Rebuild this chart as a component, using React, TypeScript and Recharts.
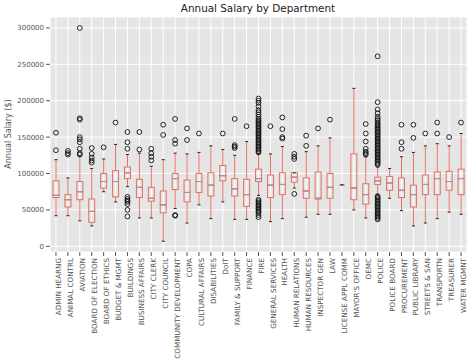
import { ComposedChart, Bar, Scatter, XAxis, YAxis, CartesianGrid } from "recharts";

const departments = [
  "ADMIN HEARNG", "ANIMAL CONTRL", "AVIATION", "BOARD OF ELECTION", "BOARD OF ETHICS",
  "BUDGET & MGMT", "BUILDINGS", "BUSINESS AFFAIRS", "CITY CLERK", "CITY COUNCIL",
  "COMMUNITY DEVELOPMENT", "COPA", "CULTURAL AFFAIRS", "DISABILITIES", "DoIT",
  "FAMILY & SUPPORT", "FINANCE", "FIRE", "GENERAL SERVICES", "HEALTH",
  "HUMAN RELATIONS", "HUMAN RESOURCES", "INSPECTOR GEN", "LAW", "LICENSE APPL COMM",
  "MAYOR'S OFFICE", "OEMC", "POLICE", "POLICE BOARD", "PROCUREMENT",
  "PUBLIC LIBRARY", "STREETS & SAN", "TRANSPORTN", "TREASURER", "WATER MGMNT",
];

const whiskerLow = [
  42000, 42000, 35000, 28000, 75000, 61000, 82000, 39000, 39000, 7000,
  52000, 32000, 57000, 38000, 61000, 37000, 37000, 70000, 34000, 38000,
  80000, 40000, 44000, 44000, 84400, 50000, 39000, 71000, 66000, 49000,
  28000, 32000, 38000, 47000, 44000,
];
const q1 = [
  67000, 54000, 64000, 33000, 80000, 68000, 93000, 67000, 62000, 46000,
  78000, 61000, 74000, 69000, 90000, 69000, 55000, 89000, 67000, 71000,
  88000, 66000, 65000, 66000, 84400, 64000, 58000, 85000, 77000, 67000,
  54000, 71000, 71000, 77000, 71000,
];
const medians = [
  70000, 64000, 75000, 48000, 89000, 89000, 101000, 81000, 66000, 57000,
  93000, 74000, 89000, 84000, 97000, 79000, 71000, 93000, 84000, 85000,
  95000, 76000, 66000, 81000, 84400, 80000, 71000, 90000, 87000, 77000,
  71000, 85000, 93000, 89000, 93000,
];
const q3 = [
  90000, 71000, 89000, 65000, 100000, 104000, 109000, 92000, 81000, 76000,
  100000, 91000, 100000, 101000, 111000, 93000, 92000, 106000, 98000, 101000,
  101000, 94000, 102000, 100000, 84400, 127000, 86000, 95000, 96000, 94000,
  84000, 98000, 102000, 103000, 106000,
];
const whiskerHigh = [
  119000, 94000, 124000, 107000, 120000, 140000, 126000, 128000, 110000, 119000,
  128000, 127000, 129000, 138000, 133000, 125000, 144000, 127000, 127000, 137000,
  101000, 130000, 138000, 149000, 84400, 217000, 123000, 109000, 107000, 123000,
  129000, 138000, 141000, 138000, 155000,
];

const fliers: number[][] = [
  [156000, 132000],
  [131000, 128000, 126000],
  [300000, 176000, 174000, 150000, 147000, 143000, 134000, 128000, 126000],
  [135000, 127000, 122000, 118000, 115000],
  [136000],
  [170000],
  [157000, 143000, 134000, 68000, 65000, 63000, 61000, 58000, 50000, 41000],
  [157000, 133000],
  [134000, 128000, 123000, 118000],
  [167000, 153000],
  [175000, 146000, 141000, 43000, 42000],
  [162000, 146000],
  [155000],
  [],
  [155000],
  [175000, 139000, 137000, 135000],
  [165000],
  [
    203000, 200000, 197000, 192000, 187000, 184000, 181000, 178000, 175000, 173000,
    171000, 169000, 167000, 165000, 163000, 161000, 159000, 157000, 155000, 153000,
    151000, 149000, 147000, 145000, 143000, 141000, 139000, 137000, 135000, 133000,
    131000, 129000, 64000, 62000, 60000, 58000, 56000, 54000, 52000, 50000,
    48000, 46000, 43000, 40000,
  ],
  [165000],
  [177000, 161000, 150000, 148000],
  [127000, 123000, 120000, 72000],
  [152000, 138000],
  [162000],
  [174000],
  [],
  [],
  [168000, 155000, 144000, 134000, 130000, 128000, 126000],
  [
    261000, 198000, 188000, 183000, 178000, 175000, 173000, 170000, 168000, 166000,
    164000, 162000, 160000, 158000, 156000, 154000, 152000, 150000, 148000, 146000,
    144000, 142000, 140000, 138000, 136000, 134000, 132000, 130000, 128000, 126000,
    124000, 122000, 120000, 118000, 116000, 114000, 112000, 69000, 67000, 65000,
    63000, 61000, 59000, 57000, 55000, 53000, 51000, 49000, 47000, 45000,
    43000, 41000, 39000, 37000,
  ],
  [],
  [167000, 143000, 134000],
  [167000, 149000],
  [155000],
  [170000, 155000],
  [150000],
  [170000],
];

const yTicks = [0, 50000, 100000, 150000, 200000, 250000, 300000];

const BOX = "#E3705D";
const MEDIAN = "#9A93C8";
const INK = "#555555";
const FONT = "DejaVu Sans";

// stacked segments: invisible base, lower whisker, lower box half, upper box half, upper whisker
const rows = departments.map((name, i) => ({
  name,
  base: whiskerLow[i],
  lowWhisker: q1[i] - whiskerLow[i],
  lowBox: medians[i] - q1[i],
  highBox: q3[i] - medians[i],
  highWhisker: whiskerHigh[i] - q3[i],
}));

const flierPoints = fliers.flatMap((vals, i) => vals.map((v) => ({ idx: i, v })));

const LowWhisker = ({ x, y, width, height }: any) => {
  const cx = x + width / 2;
  const bottom = y + height;
  return (
    <g>
      <line x1={cx} x2={cx} y1={y} y2={bottom} stroke={BOX} strokeWidth={1} />
      <line x1={cx - width / 4} x2={cx + width / 4} y1={bottom} y2={bottom} stroke="#222" strokeWidth={1} />
    </g>
  );
};

const HighWhisker = ({ x, y, width, height }: any) => {
  const cx = x + width / 2;
  return (
    <g>
      <line x1={cx} x2={cx} y1={y} y2={y + height} stroke={BOX} strokeWidth={1} />
      <line x1={cx - width / 4} x2={cx + width / 4} y1={y} y2={y} stroke="#222" strokeWidth={1} />
    </g>
  );
};

const LowBox = ({ x, y, width, height }: any) => (
  <rect x={x} y={y} width={width} height={height} fill="none" stroke={BOX} strokeWidth={1} />
);

const HighBox = ({ x, y, width, height }: any) => (
  <g>
    <rect x={x} y={y} width={width} height={height} fill="none" stroke={BOX} strokeWidth={1} />
    <line x1={x} x2={x + width} y1={y + height} y2={y + height} stroke={MEDIAN} strokeWidth={1} />
  </g>
);

const Flier = ({ cx, cy }: any) => (
  <circle cx={cx} cy={cy} r={2.4} fill="none" stroke="#111" strokeWidth={0.9} />
);

export default function App() {
  return (
    <div
      style={{
        position: "absolute",
        left: 0,
        top: 0,
        width: 474,
        height: 362,
        background: "#fff",
        fontFamily: FONT,
      }}
    >
      <div
        style={{
          position: "absolute",
          left: 258,
          top: 2,
          transform: "translateX(-50%)",
          fontSize: 10.4,
          color: "#222",
          whiteSpace: "nowrap",
        }}
      >
        Annual Salary by Department
      </div>
      <div
        style={{
          position: "absolute",
          left: 8,
          top: 134,
          transform: "translate(-50%, -50%) rotate(-90deg)",
          fontSize: 8,
          color: INK,
          whiteSpace: "nowrap",
        }}
      >
        Annual Salary ($)
      </div>
      <ComposedChart
        width={474}
        height={362}
        data={rows}
        margin={{ top: 17, right: 7, bottom: 0, left: 0 }}
        barSize={6}
      >
        <CartesianGrid fill="#E5E5E5" stroke="#ffffff" strokeWidth={1} />
        <XAxis
          dataKey="name"
          interval={0}
          height={110}
          axisLine={false}
          tickSize={4}
          tickLine={{ stroke: INK }}
          angle={-90}
          textAnchor="end"
          tick={{ fontSize: 7.2, fill: INK, fontFamily: FONT, verticalAnchor: "middle" }}
        />
        <XAxis xAxisId="pts" dataKey="idx" type="number" domain={[-0.5, 34.5]} hide />
        <YAxis
          type="number"
          domain={[-7800, 315000]}
          allowDataOverflow
          ticks={yTicks}
          width={50}
          axisLine={false}
          tickSize={4}
          tickLine={{ stroke: INK }}
          tick={{ fontSize: 7, fill: INK, fontFamily: FONT }}
        />
        <Bar dataKey="base" stackId="box" fill="transparent" isAnimationActive={false} />
        <Bar dataKey="lowWhisker" stackId="box" shape={<LowWhisker />} isAnimationActive={false} />
        <Bar dataKey="lowBox" stackId="box" shape={<LowBox />} isAnimationActive={false} />
        <Bar dataKey="highBox" stackId="box" shape={<HighBox />} isAnimationActive={false} />
        <Bar dataKey="highWhisker" stackId="box" shape={<HighWhisker />} isAnimationActive={false} />
        <Scatter
          xAxisId="pts"
          data={flierPoints}
          dataKey="v"
          shape={<Flier />}
          isAnimationActive={false}
        />
      </ComposedChart>
    </div>
  );
}
